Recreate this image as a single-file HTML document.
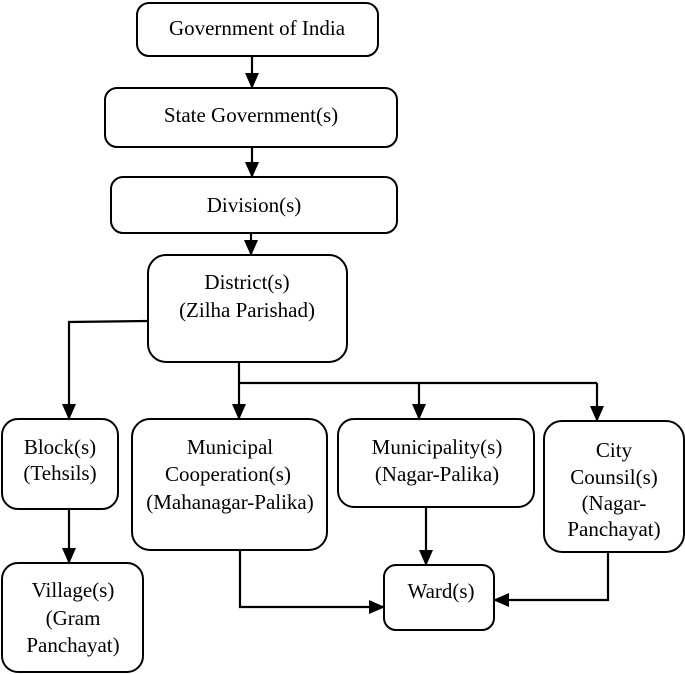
<!DOCTYPE html>
<html><head><meta charset="utf-8"><style>
html,body{margin:0;padding:0;background:#fff;}
svg{display:block;}
text{font-family:"Liberation Serif",serif;font-size:21px;fill:#000;text-anchor:middle;dominant-baseline:central;}
</style></head><body>
<svg width="685" height="674" viewBox="0 0 685 674" xmlns="http://www.w3.org/2000/svg">
<defs><marker id="a" markerWidth="10" markerHeight="10" refX="9" refY="5" orient="auto" markerUnits="userSpaceOnUse"><path d="M0,0 L10,5 L0,10 z" fill="#000"/></marker>
<marker id="b" markerWidth="16" markerHeight="14" refX="15" refY="7" orient="auto" markerUnits="userSpaceOnUse"><path d="M0,0 L16,7 L0,14 z" fill="#000"/></marker></defs>
<g fill="none" stroke="#000" stroke-width="2">
<rect x="137" y="3" width="241" height="53" rx="12"/>
<rect x="105" y="88" width="292" height="59" rx="12"/>
<rect x="111" y="177" width="286" height="56" rx="12"/>
<rect x="148" y="255" width="199" height="107" rx="18"/>
<rect x="2" y="419" width="116" height="90" rx="16"/>
<rect x="132" y="419" width="195" height="131" rx="18"/>
<rect x="338" y="419" width="196" height="88" rx="16"/>
<rect x="544" y="421" width="140" height="131" rx="18"/>
<rect x="2" y="563" width="141" height="109" rx="16"/>
<rect x="384" y="565" width="110" height="65" rx="12"/>
<g stroke-width="2.2">
<line x1="252" y1="56" x2="252" y2="88" marker-end="url(#b)"/>
<line x1="252" y1="147" x2="252" y2="177" marker-end="url(#b)"/>
<line x1="251" y1="233" x2="251" y2="255" marker-end="url(#b)"/>
<polyline points="148,321 69,322 69,419" marker-end="url(#b)"/>
<line x1="239" y1="362" x2="239" y2="419" marker-end="url(#b)"/>
<line x1="239" y1="383" x2="597" y2="383"/>
<line x1="419" y1="383" x2="419" y2="419" marker-end="url(#b)"/>
<line x1="597" y1="383" x2="597" y2="421" marker-end="url(#b)"/>
<line x1="69" y1="509" x2="69" y2="563" marker-end="url(#b)"/>
<polyline points="240,550 240,607 384,607" marker-end="url(#b)"/>
<line x1="426" y1="507" x2="426" y2="565" marker-end="url(#b)"/>
<polyline points="608,552 608,600 494,600" marker-end="url(#b)"/>
</g>
</g>
<text x="257" y="28">Government of India</text>
<text x="251" y="115">State Government(s)</text>
<text x="254" y="205">Division(s)</text>
<text x="247" y="282">District(s)</text>
<text x="247" y="310">(Zilha Parishad)</text>
<text x="60" y="447">Block(s)</text>
<text x="60" y="473">(Tehsils)</text>
<text x="230" y="447">Municipal</text>
<text x="228" y="474">Cooperation(s)</text>
<text x="230" y="502">(Mahanagar-Palika)</text>
<text x="437" y="447">Municipality(s)</text>
<text x="437" y="474">(Nagar-Palika)</text>
<text x="614" y="450">City</text>
<text x="614" y="477">Counsil(s)</text>
<text x="614" y="503">(Nagar-</text>
<text x="614" y="529">Panchayat)</text>
<text x="73" y="590">Village(s)</text>
<text x="73" y="618">(Gram</text>
<text x="73" y="645">Panchayat)</text>
<text x="441" y="591">Ward(s)</text>
</svg>
</body></html>
